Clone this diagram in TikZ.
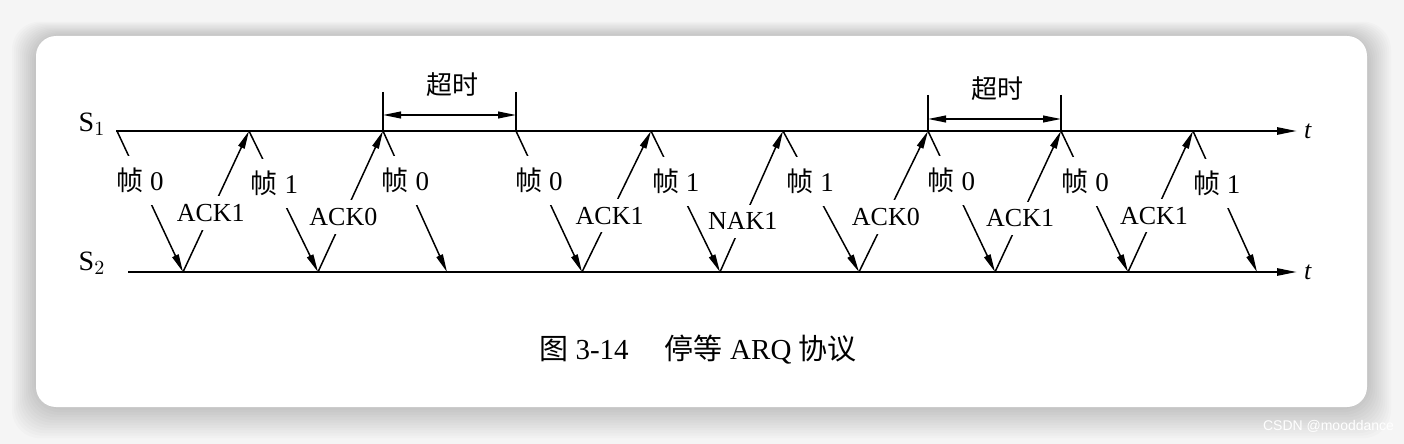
\documentclass[tikz,border=0pt]{standalone}
\usepackage{fontspec}
\setmainfont{Liberation Serif}
\newfontfamily\cjk{Noto Sans CJK SC}
\newfontfamily\wmfont{Liberation Sans}
\usetikzlibrary{arrows.meta,positioning}

\begin{document}
\begin{tikzpicture}[x=0.5pt,y=-0.5pt,
	tip/.style={-{Triangle[length=9pt,width=3.4pt]}},
	frm/.style={tip, line width=0.75pt},
	ack/.style={tip, line width=0.75pt},
	frl/.style={fill=white, inner xsep=1pt, inner ysep=6pt, font=\fontsize{13.5}{15}\selectfont},
	ackl/.style={fill=white, inner xsep=1pt, inner ysep=4pt, font=\fontsize{13}{15}\selectfont},
	timeline/.style={-{Triangle[length=10pt,width=3.6pt]}, line width=1pt},
	bracket/.style={{Triangle[length=9pt,width=3.4pt]}-{Triangle[length=9pt,width=3.4pt]}, line width=0.75pt}]

	% page and card
	\useasboundingbox (0,0) rectangle (1404,444);
	\fill[black!4] (0,0) rectangle (1404,444);
	\foreach \k in {1,...,12}
		\fill[black, opacity=0.016, rounded corners=14] (36-2*\k, 36-1.2*\k) rectangle (1367+2*\k, 407+2.6*\k);
	\fill[white, rounded corners=10] (36,36) rectangle (1367,407);
	\node[text=white, font=\wmfont\fontsize{7}{8}\selectfont, anchor=west] (wm) at (1256,426) {CSDN @mooddance};

	% time lines
	\coordinate (s1a) at (116,131);
	\coordinate (s1b) at (1297,131);
	\coordinate (s2a) at (128,272);
	\coordinate (s2b) at (1297,272);
	\draw[timeline] (s1a) -- (s1b);
	\draw[timeline] (s2a) -- (s2b);
	\node[font=\fontsize{14}{16}\selectfont] (s1) at (92,124) {S$_1$};
	\node[font=\fontsize{14}{16}\selectfont] (s2) at (92,263) {S$_2$};
	\node[right=0pt of s1b, font=\fontsize{13}{15}\selectfont] (t1) {\textit{t}};
	\node[right=0pt of s2b, font=\fontsize{13}{15}\selectfont] (t2) {\textit{t}};

	% instants on S1 and S2
	\coordinate (u0) at (117,131);
	\coordinate (u1) at (249,131);
	\coordinate (u2) at (383,131);
	\coordinate (u3) at (516,131);
	\coordinate (u4) at (651,131);
	\coordinate (u5) at (783,131);
	\coordinate (u6) at (928,131);
	\coordinate (u7) at (1061,131);
	\coordinate (u8) at (1193,131);
	\coordinate (d0) at (183,272);
	\coordinate (d1) at (318,272);
	\coordinate (d2) at (447,272);
	\coordinate (d3) at (582,272);
	\coordinate (d4) at (720,272);
	\coordinate (d5) at (859,272);
	\coordinate (d6) at (995,272);
	\coordinate (d7) at (1128,272);
	\coordinate (d8) at (1257,272);

	% frames
	\draw (u0) edge[frm] node[frl, pos=0.35] {{\cjk 帧} 0} (d0);
	\draw (u1) edge[frm] node[frl, pos=0.37] {{\cjk 帧} 1} (d1);
	\draw (u2) edge[frm] node[frl, pos=0.35] {{\cjk 帧} 0} (d2);
	\draw (u3) edge[frm] node[frl, pos=0.35] {{\cjk 帧} 0} (d3);
	\draw (u4) edge[frm] node[frl, pos=0.36] {{\cjk 帧} 1} (d4);
	\draw (u5) edge[frm] node[frl, pos=0.36] {{\cjk 帧} 1} (d5);
	\draw (u6) edge[frm] node[frl, pos=0.35] {{\cjk 帧} 0} (d6);
	\draw (u7) edge[frm] node[frl, pos=0.36] {{\cjk 帧} 0} (d7);
	\draw (u8) edge[frm] node[frl, pos=0.37] {{\cjk 帧} 1} (d8);

	% replies
	\draw (d0) edge[ack] node[ackl, pos=0.42] {ACK1} (u1);
	\draw (d1) edge[ack] node[ackl, pos=0.39] {ACK0} (u2);
	\draw (d3) edge[ack] node[ackl, pos=0.40] {ACK1} (u4);
	\draw (d4) edge[ack] node[ackl, pos=0.36] {NAK1} (u5);
	\draw (d5) edge[ack] node[ackl, pos=0.39] {ACK0} (u6);
	\draw (d6) edge[ack] node[ackl, pos=0.38] {ACK1} (u7);
	\draw (d7) edge[ack] node[ackl, pos=0.40] {ACK1} (u8);

	% timeouts
	\coordinate (to1a) at (383,92);
	\coordinate (to1b) at (516,92);
	\coordinate (to1l) at (383,115);
	\coordinate (to1r) at (516,115);
	\draw[line width=0.75pt] (to1a) -- (u2);
	\draw[line width=0.75pt] (to1b) -- (u3);
	\draw[bracket] (to1l) -- (to1r);
	\node[font=\cjk\fontsize{13}{15}\selectfont] (to1) at (452,85) {超时};

	\coordinate (to2a) at (928,95);
	\coordinate (to2b) at (1061,95);
	\coordinate (to2l) at (928,119);
	\coordinate (to2r) at (1061,119);
	\draw[line width=0.75pt] (to2a) -- (u6);
	\draw[line width=0.75pt] (to2b) -- (u7);
	\draw[bracket] (to2l) -- (to2r);
	\node[font=\cjk\fontsize{13}{15}\selectfont] (to2) at (997,89) {超时};

	% caption
	\node[font=\fontsize{14.5}{16}\selectfont] (cap) at (698,350) {{\cjk 图} 3-14\quad\ {\cjk 停等} ARQ {\cjk 协议}};

\end{tikzpicture}
\end{document}
